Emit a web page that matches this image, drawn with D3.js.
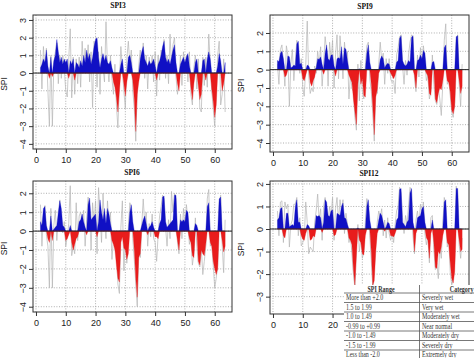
<!DOCTYPE html>
<html><head><meta charset="utf-8">
<script src="https://cdn.jsdelivr.net/npm/d3@7"></script>
<style>body{margin:0;background:#fff}svg{display:block}</style>
</head><body>
<svg id="c" width="474" height="358"></svg>
<script>
// time index (years of record), half-year resolution
const timeIndex = d3.range(1.5, 63.75, 0.5);
const xTicks = [0, 10, 20, 30, 40, 50, 60];
const spi3Ticks = [-4, -3, -2, -1, 0, 1, 2, 3];
const spi9Ticks = [-4, -3, -2, -1, 0, 1, 2];
const spi6Ticks = [-4, -3, -2, -1, 0, 1, 2];
const spi12Ticks = [-3, -2, -1, 0, 1, 2];

const spi3Mean = [
 0.3,0.5,0.8,0.6,1.3,0.4,-0.3,0.9,-0.2,0.7,
 1.0,1.9,1.2,0.6,0.9,0.5,0.8,0.6,0.8,-0.3,
 0.7,0.5,0.8,-0.4,0.6,0.5,0.3,0.7,0.4,1.0,
 0.6,1.3,0.8,1.1,0.5,0.9,1.5,1.9,2.0,0.9,
 0.3,0.8,1.1,0.7,1.0,0.6,0.5,0.7,0.3,-0.5,
 -0.8,-1.4,-2.2,-1.0,0.5,0.8,-0.6,-1.3,-0.5,0.9,
 1.0,0.6,-0.4,-1.5,-3.3,-1.2,-0.5,0.8,1.2,1.5,
 0.8,0.6,0.4,0.7,0.5,0.6,0.8,0.4,-0.4,0.5,
 0.7,1.0,1.5,1.8,0.9,0.6,0.8,0.5,0.9,1.3,
 1.6,0.6,-0.6,-1.0,0.5,0.7,0.9,0.6,0.9,1.1,
 0.4,-0.8,-1.5,-0.6,0.6,0.8,-0.7,-1.5,-1.2,0.7,
 0.8,-0.4,0.8,1.2,0.8,-0.9,-1.6,-2.5,-1.8,0.4,
 1.1,0.7,-1.0,-0.6,0.6];
const spi3Station = [
 1.3,-0.9,1.5,0.2,1.4,-1.0,-3.0,1.0,-3.0,0.5,
 1.2,1.7,-0.6,1.0,-0.3,1.0,0.2,-1.0,-1.35,0.8,
 2.5,-1.4,0.9,-1.2,0.8,-0.6,0.9,-0.8,1.8,0.3,
 1.4,0.2,1.6,-0.5,1.2,-1.95,1.8,1.2,-0.8,1.2,
 -1.2,1.5,0.3,-0.5,2.9,0.4,-0.5,1.0,-0.3,-1.2,
 0.5,-1.8,-3.1,-0.5,1.5,0.2,-1.0,-2.0,0.8,1.8,
 0.5,1.3,-1.0,-2.0,-3.85,-0.8,0.4,1.3,0.5,1.7,
 -0.3,1.0,-0.9,0.9,0.1,1.0,-0.5,1.2,-1.3,1.0,
 -0.4,1.3,0.5,1.9,-0.3,1.0,-0.6,2.2,0.3,1.6,
 2.0,-0.2,-1.2,-0.4,1.0,-0.7,1.2,0.2,1.0,-0.5,
 1.2,-1.2,-1.8,0.3,1.0,-0.9,0.8,-2.0,-2.2,0.9,
 -0.7,0.9,-0.8,2.2,0.5,-1.0,-2.0,-3.0,-1.2,1.0,
 1.8,-1.8,-1.2,0.8,-2.2];

const spi9Mean = [
 0.5,0.45,0.9,1.0,0.6,-0.4,-0.3,0.75,0.7,0.1,
 0.15,0.25,0.2,1.4,1.55,0.3,0.35,-0.5,-0.6,-0.3,
 0.25,0.2,-0.7,-0.9,-0.6,-0.4,0.1,0.6,0.55,0.7,
 0.3,-0.25,0.9,1.35,0.6,0.5,0.8,0.8,0.2,-0.35,
 0.6,0.65,0.6,1.25,0.3,1.2,1.1,0.5,-0.3,-0.5,
 -0.7,-1.6,-2.3,-3.0,-0.8,0.05,-0.8,-0.5,-1.4,-1.5,
 0.9,1.35,0.4,-0.8,-2.0,-3.55,-1.5,-1.1,-0.2,0.55,
 0.75,0.6,0.1,0.25,0.35,0.3,-0.2,-0.35,-0.5,-0.3,
 0.4,0.5,1.7,1.85,0.5,0.3,0.2,0.3,0.5,0.4,
 1.75,1.85,-0.3,-1.0,0.5,0.55,0.8,0.6,1.05,0.9,
 -0.2,-0.35,-1.3,-1.4,0.4,0.45,-1.6,-1.8,-1.3,-1.0,
 -1.1,-0.6,1.2,1.35,-0.6,-0.7,-1.2,-2.2,-2.4,-2.0,
 1.8,1.85,-0.6,-1.3,-0.9];
const spi9Station = [
 0.3,-0.8,1.1,1.35,0.3,-0.9,1.3,0.8,-2.0,0.3,
 1.1,-0.6,0.4,1.6,1.2,-0.2,0.6,-1.0,-1.45,0.2,
 2.65,-0.3,-1.3,-1.0,-1.2,0.2,-0.2,1.0,0.3,1.25,
 -0.9,0.3,1.8,1.1,-0.9,1.5,0.5,1.6,-1.0,0.8,
 1.9,-0.5,1.85,0.8,-0.5,1.5,0.6,1.0,-1.6,-0.3,
 -1.0,-1.2,-2.6,-3.3,0.3,-1.7,0.5,-1.2,-1.6,0.2,
 1.3,1.5,-0.5,-1.2,-2.4,-3.9,-1.0,-1.3,0.3,1.5,
 0.5,0.9,-0.8,0.6,-0.2,0.6,-0.5,-0.7,-0.6,-1.3,
 0.8,1.2,1.8,1.9,0.2,-0.8,0.5,-0.3,0.8,1.5,
 1.9,1.8,-0.5,-1.2,0.8,-0.4,1.2,0.3,1.3,0.5,
 -0.6,-0.3,-1.6,-1.2,0.8,-0.8,-1.7,-1.9,-1.0,-1.6,
 -2.5,-0.8,1.6,2.5,-0.8,-0.5,-1.4,-2.3,-2.6,-1.8,
 1.6,1.9,-0.8,-2.0,0.3];

const spi6Mean = [
 0.5,0.3,1.2,1.3,0.3,-0.4,-0.6,0.8,-0.5,0.1,
 0.2,0.3,1.0,1.6,1.2,0.3,0.2,-0.5,-0.4,-0.2,
 0.3,-0.6,-1.0,-0.7,-0.4,-0.3,0.5,0.6,0.9,0.5,
 0.2,-0.2,1.4,1.75,0.6,0.7,0.8,0.9,-0.3,0.5,
 1.65,1.0,0.6,1.2,0.4,1.2,0.9,0.4,-0.5,-0.7,
 -1.0,-1.8,-2.5,-2.7,-0.6,-0.3,-0.9,-1.0,-1.5,-1.2,
 1.0,1.4,0.5,-1.0,-2.5,-3.5,-1.4,-1.2,0.3,0.6,
 0.8,0.4,-0.2,0.2,0.3,0.5,0.2,-0.3,-0.3,-0.4,
 0.4,0.6,1.8,1.85,0.5,0.2,0.3,0.4,0.5,0.6,
 1.9,1.9,-0.5,-1.0,0.6,0.5,0.6,0.5,1.1,1.0,
 -0.4,-0.6,-1.3,-1.4,0.4,0.3,-1.6,-1.8,-1.0,-1.2,
 -1.3,-0.7,1.3,1.5,-0.6,-0.8,-1.6,-2.0,-2.3,-2.0,
 1.7,1.8,-0.5,-1.1,-0.8];
const spi6Station = [
 1.4,-0.8,0.8,1.35,-0.2,-0.8,-3.0,1.2,-3.0,0.3,
 1.1,-0.5,0.6,1.65,0.6,-0.1,0.5,-0.8,-0.3,0.4,
 2.4,-1.3,-0.8,-1.2,1.5,-0.5,0.8,1.0,0.4,1.1,
 -0.8,0.6,1.8,1.0,-1.0,1.5,0.4,1.6,-1.2,2.3,
 1.0,-0.6,2.0,0.5,-0.4,1.6,0.3,1.0,-1.5,-0.4,
 -0.8,-1.2,-2.8,-3.3,0.2,1.6,-2.1,-0.5,-1.7,0.2,
 1.5,1.2,-0.4,-1.5,-2.8,-4.0,-0.8,-1.4,0.3,1.7,
 0.4,1.0,-0.8,0.4,-0.3,0.9,-0.4,-0.6,-1.6,-0.2,
 0.8,1.3,1.9,1.7,0.2,-0.8,0.6,-0.4,2.1,1.0,
 2.0,1.7,-0.6,-1.2,0.9,-0.4,1.2,0.3,1.4,0.6,
 -0.7,-0.3,-1.8,-1.2,0.7,-0.8,-1.7,-1.9,-0.9,-2.3,
 -1.6,-0.8,1.7,2.2,-0.8,-0.6,-1.8,-3.0,-2.5,-1.8,
 1.5,1.9,-0.7,-2.2,0.6];

const spi12Mean = [
 0.4,0.5,0.9,0.95,-0.3,-0.4,0.7,0.7,0.1,0.15,
 0.2,0.15,1.0,1.3,0.3,0.3,-0.3,-0.45,-0.5,-0.2,
 0.2,0.15,-0.5,-0.45,-0.3,-0.35,0.6,0.55,0.6,0.5,
 -0.15,0.3,1.3,1.2,0.6,0.55,0.8,0.85,-0.3,-0.25,
 0.7,0.65,0.6,1.0,1.15,0.5,0.45,0.2,-0.4,-0.5,
 -0.7,-1.8,-2.5,-1.2,0.05,-0.5,-0.6,-1.1,-1.15,-0.3,
 1.0,1.3,0.4,-1.0,-2.5,-2.3,-1.0,-0.2,0.4,0.7,
 0.6,0.3,-0.1,0.1,0.3,0.25,-0.3,-0.3,-0.35,-0.2,
 0.4,0.5,1.75,1.8,0.3,0.2,0.1,0.3,0.4,1.6,
 1.8,0.3,-1.0,-0.2,0.5,0.55,0.6,0.9,1.0,0.3,
 -0.4,-0.5,-1.3,-0.2,0.4,-0.6,-1.7,-1.75,-1.0,-1.1,
 -0.8,-0.3,1.2,1.3,-0.6,-0.7,-1.5,-2.2,-2.4,-1.9,
 1.8,1.8,-0.5,-1.0,-0.9];
const spi12Station = [
 0.8,-0.3,1.2,1.25,-0.6,1.2,0.9,1.1,-0.8,0.2,
 0.4,1.1,1.1,1.4,-0.3,0.5,-0.75,-0.6,-0.4,1.2,
 0.3,-1.1,-0.8,-0.9,-1.0,0.3,0.8,1.55,0.4,0.9,
 -0.5,1.0,1.4,0.9,0.2,1.0,0.6,1.4,-0.5,0.9,
 1.4,0.3,1.3,0.8,1.3,-0.2,0.7,0.2,-0.6,-0.3,
 -1.1,-2.0,-2.6,-0.8,0.2,-1.0,-0.4,-1.3,-1.0,0.3,
 1.35,1.0,-0.3,-1.4,-2.6,-1.8,-0.7,0.3,0.8,0.5,
 0.9,-0.3,0.4,-0.4,0.5,-0.2,-0.5,-0.2,-0.6,0.2,
 0.8,1.0,1.85,1.6,0.5,-0.2,0.6,0.2,1.0,1.85,
 1.7,-0.3,-1.1,0.4,0.8,0.2,1.1,0.6,1.2,-0.2,
 -0.7,-0.3,-1.5,0.5,0.6,-0.9,-1.8,-1.5,-2.2,-0.8,
 -1.3,0.2,1.4,1.0,-0.8,-0.4,-1.9,-2.5,-2.2,-1.5,
 1.9,1.5,-0.7,-1.3,-0.4];

const tableRanges = ["More than +2.0","1.5 to 1.99","1.0 to 1.49","-0.99 to +0.99","-1.0 to -1.49","-1.5 to -1.99","Less than -2.0"];
const tableCategories = ["Severely wet","Very wet","Moderately wet","Near normal","Moderately dry","Severely dry","Extremely dry"];

const BLUE = "#1010c4", RED = "#e81c1c";
const panels = [
 {title:"SPI3", mean:spi3Mean, station:spi3Station, yTicks:spi3Ticks, x0:33, x1:232, y0:15, y1:149, yDom:[-4.29,3.28], tx:118, ty:8, lx:7, labelMaxX:474},
 {title:"SPI9", mean:spi9Mean, station:spi9Station, yTicks:spi9Ticks, x0:270, x1:469, y0:15, y1:152, yDom:[-4.49,2.98], tx:365, ty:9, lx:244, labelMaxX:474},
 {title:"SPI6", mean:spi6Mean, station:spi6Station, yTicks:spi6Ticks, x0:33, x1:232, y0:181, y1:312, yDom:[-4.28,2.65], tx:132, ty:175, lx:7, labelMaxX:474},
 {title:"SPI12", mean:spi12Mean, station:spi12Station, yTicks:spi12Ticks, x0:270, x1:469, y0:181, y1:314, yDom:[-3.77,2.13], tx:369, ty:176, lx:244, labelMaxX:340}
];

const svg = d3.select("#c");
const defs = svg.append("defs");

panels.forEach((p, k) => {
  const x = d3.scaleLinear().domain([-1.0, 65.8]).range([p.x0, p.x1]);
  const y = d3.scaleLinear().domain(p.yDom).range([p.y1, p.y0]);
  const g = svg.append("g");
  const cid = "clip" + k;
  defs.append("clipPath").attr("id", cid).append("rect")
    .attr("x", p.x0).attr("y", p.y0).attr("width", p.x1 - p.x0).attr("height", p.y1 - p.y0);

  // grid
  g.selectAll("line.vg").data(xTicks).join("line").attr("class","vg")
    .attr("x1", d => x(d)).attr("x2", d => x(d)).attr("y1", p.y0).attr("y2", p.y1)
    .attr("stroke", "#9a9a9a").attr("stroke-width", 0.8).attr("stroke-dasharray", "1,1.6");
  g.selectAll("line.hg").data(p.yTicks).join("line").attr("class","hg")
    .attr("x1", p.x0).attr("x2", p.x1).attr("y1", d => y(d)).attr("y2", d => y(d))
    .attr("stroke", "#9a9a9a").attr("stroke-width", 0.8).attr("stroke-dasharray", "1,1.6");

  const pg = g.append("g").attr("clip-path", `url(#${cid})`);
  // station series (thin gray line)
  const line = d3.line().x((d, i) => x(timeIndex[i])).y(d => y(d));
  pg.append("path").attr("d", line(p.station)).attr("fill", "none")
    .attr("stroke", "#b4b4b4").attr("stroke-width", 0.7);
  // mean series as filled areas above / below zero
  const areaPos = d3.area().x((d, i) => x(timeIndex[i])).y0(y(0)).y1(d => y(Math.max(0, d)));
  const areaNeg = d3.area().x((d, i) => x(timeIndex[i])).y0(y(0)).y1(d => y(Math.min(0, d)));
  pg.append("path").attr("d", areaPos(p.mean)).attr("fill", BLUE).attr("stroke", BLUE).attr("stroke-width", 0.3);
  pg.append("path").attr("d", areaNeg(p.mean)).attr("fill", RED).attr("stroke", RED).attr("stroke-width", 0.3);
  // zero line
  pg.append("line").attr("x1", p.x0).attr("x2", p.x1).attr("y1", y(0)).attr("y2", y(0))
    .attr("stroke", "#222").attr("stroke-width", 1);

  // box
  g.append("rect").attr("x", p.x0).attr("y", p.y0).attr("width", p.x1 - p.x0).attr("height", p.y1 - p.y0)
    .attr("fill", "none").attr("stroke", "#333").attr("stroke-width", 1);

  // bottom axis
  const ax = g.append("g").attr("transform", `translate(0,${p.y1})`)
    .call(d3.axisBottom(x).tickValues(xTicks.filter(t => x(t) < p.labelMaxX)).tickSize(4).tickPadding(4).tickFormat(d3.format("d")));
  ax.select(".domain").remove();
  ax.selectAll("line").attr("stroke", "#333");
  ax.selectAll("text").attr("font-family", "Liberation Sans, Arial, sans-serif").attr("font-size", 9).attr("fill", "#222");

  // left axis, rotated labels
  const ay = g.append("g").attr("transform", `translate(${p.x0},0)`)
    .call(d3.axisLeft(y).tickValues(p.yTicks).tickSize(4).tickFormat(d3.format("d")));
  ay.select(".domain").remove();
  ay.selectAll("line").attr("stroke", "#333");
  ay.selectAll("text").attr("x", 0).attr("y", -7.5).attr("dy", 0)
    .attr("transform", "rotate(-90)").attr("text-anchor", "middle")
    .attr("font-family", "Liberation Sans, Arial, sans-serif").attr("font-size", 9).attr("fill", "#222");

  // y-axis title
  svg.append("text").attr("transform", `translate(${p.lx},${(p.y0 + p.y1) / 2 + 2}) rotate(-90)`)
    .attr("text-anchor", "middle").attr("font-family", "Liberation Sans, Arial, sans-serif")
    .attr("font-size", 8.5).attr("fill", "#222").text("SPI");
  // panel title
  svg.append("text").attr("x", p.tx).attr("y", p.ty).attr("text-anchor", "middle")
    .attr("font-family", "Liberation Serif, Times New Roman, serif").attr("font-weight", "bold")
    .attr("font-size", 7.5).attr("fill", "#111").text(p.title);
});

// classification table
const tb = svg.append("g");
const tX0 = 344, tX1 = 474, tDiv = 419.5, tY0 = 285, headH = 8, rowH = 9.5;
tb.append("rect").attr("x", tX0).attr("y", tY0).attr("width", tX1 - tX0).attr("height", 358 - tY0).attr("fill", "#fff");
const rowLines = d3.range(tableRanges.length).map(i => tY0 + headH + i * rowH);
tb.selectAll("line.rl").data(rowLines).join("line").attr("class","rl")
  .attr("x1", tX0).attr("x2", tX1).attr("y1", d => d).attr("y2", d => d)
  .attr("stroke", "#555").attr("stroke-width", 0.8);
tb.append("line").attr("x1", tDiv).attr("x2", tDiv).attr("y1", tY0).attr("y2", 358)
  .attr("stroke", "#555").attr("stroke-width", 0.8);
const sx = 0.8;
function ttext(x, y, s, anchor, bold) {
  tb.append("text").attr("transform", `translate(${x},${y}) scale(${sx},1)`)
    .attr("text-anchor", anchor).attr("font-family", "Liberation Serif, Times New Roman, serif")
    .attr("font-size", 7.5).attr("font-weight", bold ? "bold" : "normal").attr("fill", "#333").text(s);
}
ttext(381, tY0 + 6.5, "SPI Range", "middle", true);
ttext(473.5, tY0 + 6.5, "Category", "end", true);
tableRanges.forEach((s, i) => ttext(346, tY0 + headH + i * rowH + 7, s, "start", false));
tableCategories.forEach((s, i) => ttext(422, tY0 + headH + i * rowH + 7, s, "start", false));
</script>
</body></html>
